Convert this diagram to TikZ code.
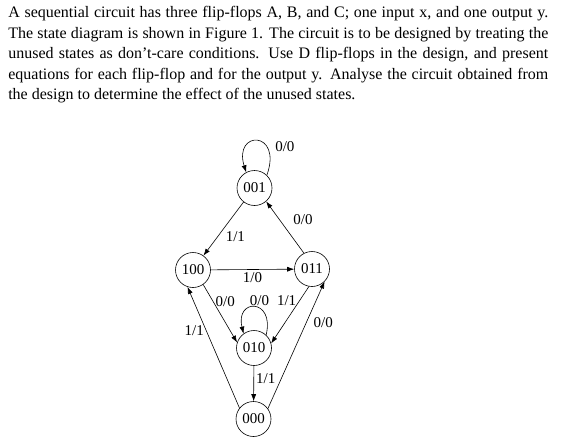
\documentclass[tikz,border=0pt]{standalone}
\usepackage{fontspec}
\setmainfont{Liberation Serif}
\usetikzlibrary{arrows.meta}
\tikzset{
  state/.style={circle, draw, minimum size=35pt, inner sep=0pt},
  lbl/.style={inner sep=2pt},
  tr/.style={-{Latex[length=7pt, width=5pt]}},
}
\begin{document}
\begin{tikzpicture}[x=1pt, y=-1pt, line width=0.6pt, font=\fontsize{15}{18}\selectfont]
  \useasboundingbox (0,0) rectangle (565,442);
  \node[anchor=north west, text width=540pt, align=justify, inner sep=0pt,
        font=\fontsize{16}{20.6}\selectfont] (task) at (8,6)
    {A sequential circuit has three flip-flops A, B, and C; one input x, and one output y.\linebreak
     The state diagram is shown in Figure 1. The circuit is to be designed by treating the\linebreak
     unused states as don't-care conditions. Use D flip-flops in the design, and present\linebreak
     equations for each flip-flop and for the output y. Analyse the circuit obtained from\linebreak
     the design to determine the effect of the unused states.};
  % states
  \node[state] (s001) at (254.5,188) {001};
  \node[state] (s100) at (193,270) {100};
  \node[state] (s011) at (312,269) {011};
  \node[state] (s010) at (254,348) {010};
  \node[state] (s000) at (253.5,419) {000};
  % self loops
  \draw[tr] (s001.46) .. controls (283,130) and (233,130) .. (s001.118)
    node[lbl, pos=0.3, right=6pt] {0/0};
  \draw[tr] (s010.47) .. controls (275,298) and (235,298) .. (s010.126)
    node[lbl, pos=0.4, above] {0/0};
  % transitions
  \draw[tr] (s001.232) -- (s100.54) node[lbl, midway, below right] {1/1};
  \draw[tr] (s011.117) -- (s001.311) node[lbl, midway, above right, xshift=6pt] {0/0};
  \draw[tr] (s100) -- (s011) node[lbl, midway, below=1pt] {1/0};
  \draw[tr] (s100.305) -- (s010.162) node[lbl, pos=0.3, right] {0/0};
  \draw[tr] (s011.260) -- (s010.15) node[lbl, pos=0.25, left=1pt] {1/1};
  \draw[tr] (s010) -- (s000) node[lbl, pos=0.35, right] {1/1};
  \draw[tr] (s000.142) -- (s100.252) node[lbl, pos=0.64, left] {1/1};
  \draw[tr] (s000.36) -- (s011.315) node[lbl, pos=0.68, right=5pt] {0/0};
\end{tikzpicture}
\end{document}
